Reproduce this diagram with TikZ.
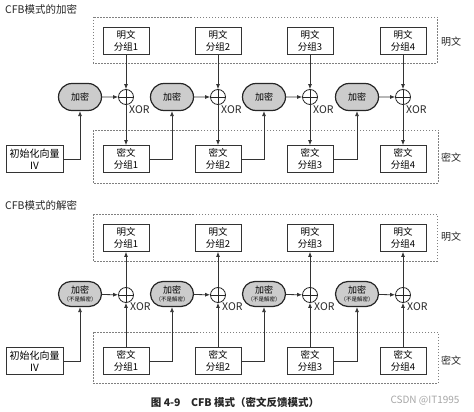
\documentclass[tikz,border=0pt]{standalone}
\usepackage{fontspec}
\setmainfont{Noto Sans CJK SC}
\usetikzlibrary{shapes.misc,arrows.meta}

\begin{document}
\begin{tikzpicture}[
    x=1pt, y=-1pt,
    arr/.style={draw=black!80, line width=0.8pt, -{Latex[length=5pt,width=4pt]}},
    block/.style={draw=black!80, line width=0.8pt, fill=white, minimum width=46pt, minimum height=27pt, inner sep=1pt, align=center, font=\fontsize{9.5}{12}\selectfont},
    pill/.style={rounded rectangle, draw=black!85, line width=1.2pt, fill=black!20, minimum width=45pt, minimum height=27pt, inner sep=1pt, align=center, font=\fontsize{9}{10}\selectfont},
    xor/.style={circle, draw=black!85, line width=0.8pt, fill=white, minimum size=15pt, inner sep=0pt,
        path picture={\draw[black!85, line width=0.8pt] (path picture bounding box.north) -- (path picture bounding box.south)
            (path picture bounding box.west) -- (path picture bounding box.east);}},
    xorlabel/.style={anchor=west, inner sep=0pt, font=\fontsize{10.5}{10.5}\selectfont, text=black!85},
    zone/.style={draw=black!50, dash pattern=on 1.5pt off 1.5pt, line width=0.5pt},
    tag/.style={font=\fontsize{10}{10}\selectfont, text=black!85},
    title/.style={anchor=west, inner sep=0pt, font=\fontsize{10.5}{10.5}\selectfont, text=black!85}
]
    \useasboundingbox (0,0) rectangle (474,412);

    % encryption
    \node[title] (enctitle) at (5,9) {CFB模式的加密};
    \draw[zone] (93,17) rectangle (437,63);
    \draw[zone] (93,130) rectangle (438,183);
    \node[tag] (plaintag) at (451,42) {明文};
    \node[tag] (ciphertag) at (451,158) {密文};
    \node[block, minimum width=57pt, font=\fontsize{10}{12}\selectfont] (iv) at (34.5,159) {初始化向量\\IV};

    \foreach \i/\x in {1/126,2/218,3/310,4/403} {
        \node[block] (p\i) at (\x,41) {明文\\分组\i};
        \node[block] (c\i) at (\x,159) {密文\\分组\i};
        \node[xor] (x\i) at (\x,97) {};
        \node[pill] (e\i) at (\x-46,97) {加密};
        \node[xorlabel] (xl\i) at (\x+3,110) {XOR};

        \draw[arr] (p\i) -- (x\i);
        \draw[arr] (x\i) -- (c\i);
        \draw[arr] (e\i) -- (x\i);
    }
    \draw[arr] (iv.east) -| (e1.south);
    \foreach \i/\j in {1/2,2/3,3/4}
        \draw[arr] (c\i.east) -| (e\j.south);

    % decryption
    \node[title] (dectitle) at (5,205) {CFB模式的解密};
    \draw[zone] (93,214) rectangle (437,261);
    \draw[zone] (93,332) rectangle (438,383);
    \node[tag] (dplaintag) at (451,237) {明文};
    \node[tag] (dciphertag) at (451,361) {密文};
    \node[block, minimum width=57pt, font=\fontsize{10}{12}\selectfont] (div) at (34.5,361) {初始化向量\\IV};

    \foreach \i/\x in {1/126,2/218,3/310,4/403} {
        \node[block] (dp\i) at (\x,238) {明文\\分组\i};
        \node[block] (dc\i) at (\x,361) {密文\\分组\i};
        \node[xor] (dx\i) at (\x,295) {};
        \node[pill, minimum height=25pt] (de\i) at (\x-46,294) {加密\\[-2pt]{\fontsize{5.5}{6}\selectfont（不是解密）}};
        \node[xorlabel] (dxl\i) at (\x+4,307) {XOR};

        \draw[arr] (dc\i) -- (dx\i);
        \draw[arr] (dx\i) -- (dp\i);
        \draw[arr] (de\i) -- (dx\i);
    }
    \draw[arr] (div.east) -| (de1.south);
    \foreach \i/\j in {1/2,2/3,3/4}
        \draw[arr] (dc\i.east) -| (de\j.south);

    \node[font=\fontsize{10.5}{10.5}\selectfont\bfseries, text=black!85] (caption) at (235,402) {图 4-9\quad CFB 模式（密文反馈模式）};
    \node[font=\fontsize{10}{10}\selectfont, text=black!35] (mark) at (425,401) {CSDN @IT1995};
\end{tikzpicture}
\end{document}
